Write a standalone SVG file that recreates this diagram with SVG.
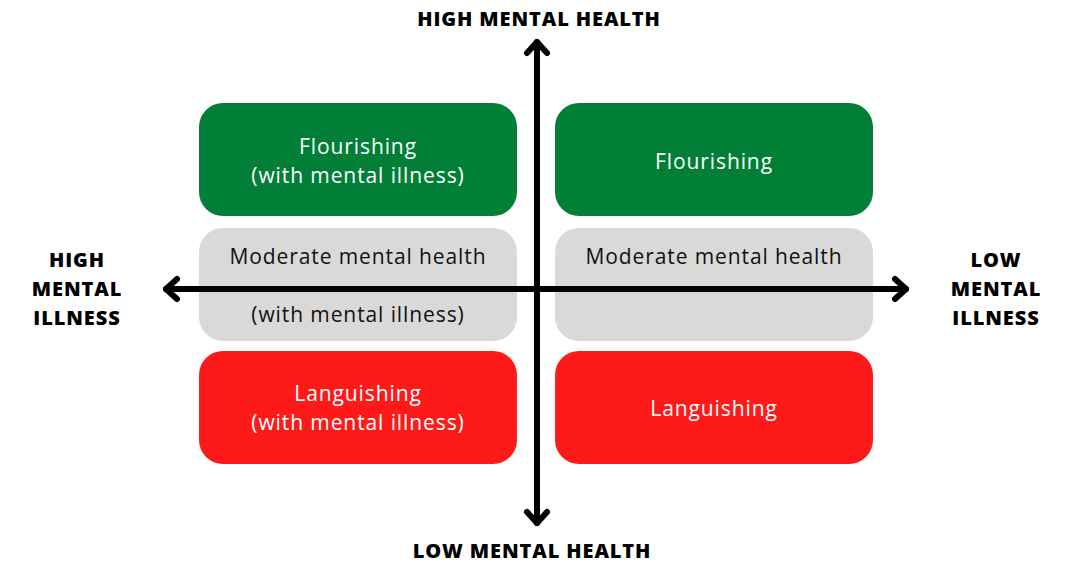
<svg xmlns="http://www.w3.org/2000/svg" width="1073" height="567" viewBox="0 0 1073 567">
<style>
.box{stroke:none}
.g{fill:#017f37}
.m{fill:#d9d9d9}
.r{fill:#ff1a1a}
.t{font-family:"Open Sans","Liberation Sans",sans-serif;font-size:21px;font-weight:500;letter-spacing:0.9px;text-anchor:middle;dominant-baseline:central}
.w{fill:#ffffff}
.k{fill:#111111}
.ax{font-family:"Open Sans","Liberation Sans",sans-serif;font-weight:800;font-size:20px;letter-spacing:0.9px;text-anchor:middle;dominant-baseline:central;fill:#000}
.ln{stroke:#000;stroke-width:6;fill:none;stroke-linecap:round;stroke-linejoin:round}
</style>
<rect width="1073" height="567" fill="#ffffff"/>
<g id="node-flourishing-mi">
<rect class="box g" x="199" y="103" width="318" height="113" rx="24"/>
<text class="t w" x="358" y="146">Flourishing</text>
<text class="t w" x="358" y="175">(with mental illness)</text>
</g>
<g id="node-flourishing">
<rect class="box g" x="555" y="103" width="318" height="113" rx="24"/>
<text class="t w" x="714" y="161">Flourishing</text>
</g>
<g id="node-moderate-mi">
<rect class="box m" x="199" y="228" width="318" height="113" rx="24"/>
<text class="t k" x="358" y="256">Moderate mental health</text>
<text class="t k" x="358" y="314">(with mental illness)</text>
</g>
<g id="node-moderate">
<rect class="box m" x="555" y="228" width="318" height="113" rx="24"/>
<text class="t k" x="714" y="256">Moderate mental health</text>
</g>
<g id="node-languishing-mi">
<rect class="box r" x="199" y="351" width="318" height="113" rx="24"/>
<text class="t w" x="358" y="393">Languishing</text>
<text class="t w" x="358" y="422">(with mental illness)</text>
</g>
<g id="node-languishing">
<rect class="box r" x="555" y="351" width="318" height="113" rx="24"/>
<text class="t w" x="714" y="408">Languishing</text>
</g>
<g id="connectors">
<line class="ln" x1="537" y1="42" x2="537" y2="523"/>
<polyline class="ln" points="527,53 537,42 547,53"/>
<polyline class="ln" points="527,512 537,523 547,512"/>
<line class="ln" x1="166" y1="289" x2="906" y2="289"/>
<polyline class="ln" points="177,279 166,289 177,299"/>
<polyline class="ln" points="895,279 906,289 895,299"/>
</g>
<g id="labels">
<text class="ax" x="539" y="18">HIGH MENTAL HEALTH</text>
<text class="ax" x="532" y="550">LOW MENTAL HEALTH</text>
<text class="ax" x="77" y="259">HIGH</text>
<text class="ax" x="77" y="288">MENTAL</text>
<text class="ax" x="77" y="317">ILLNESS</text>
<text class="ax" x="996" y="259">LOW</text>
<text class="ax" x="996" y="288">MENTAL</text>
<text class="ax" x="996" y="317">ILLNESS</text>
</g>
</svg>
